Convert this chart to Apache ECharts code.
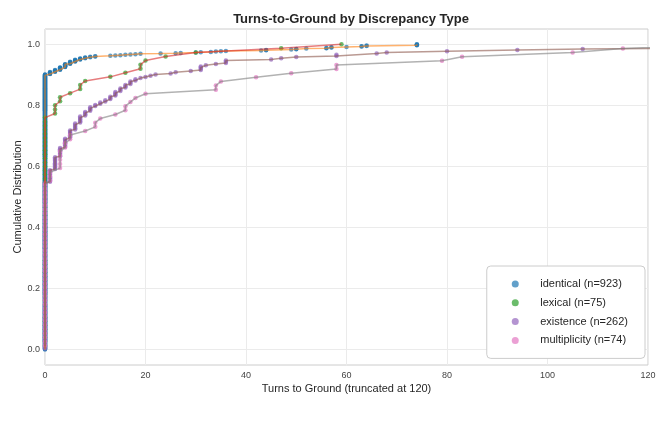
<!DOCTYPE html>
<html><head><meta charset="utf-8">
<script src="https://cdn.jsdelivr.net/npm/echarts@6/dist/echarts.min.js"></script>
<style>html,body{margin:0;padding:0;background:#fff}#c{width:669px;height:429px}</style>
</head><body><div id="c"></div>
<script>
// Category labels
const categories = ['identical (n=923)', 'lexical (n=75)', 'existence (n=262)', 'multiplicity (n=74)'];
// Distinct turns-to-ground values and how many discrepancies had each value
const identicalTurns  = [0,1,2,3,4,5,6,7,8,9,10,13,14,15,16,17,18,19,23,26,27,30,31,33,34,35,36,43,44,49,50,52,56,57,60,63,64,74];
const identicalCounts = [832,7,6,8,10,7,6,4,3,2,2,1,1,1,1,1,1,1,1,1,1,1,1,1,1,1,1,1,2,1,2,1,2,2,1,2,2,4];
const lexicalTurns    = [0,2,3,5,7,8,13,16,19,20,24,30,47,59];
const lexicalCounts   = [57,3,2,1,2,1,1,1,2,1,1,1,1,1];
const existenceTurns  = [0,1,2,3,4,5,6,7,8,9,10,11,12,13,14,15,16,17,18,19,20,21,22,25,26,29,31,32,34,36,45,47,50,58,66,68,80,94,107,135,160,200,300];
const existenceCounts = [143,11,11,8,8,7,6,6,4,4,2,2,2,3,4,3,3,3,2,1,1,1,1,1,1,1,4,1,1,3,1,1,1,2,1,1,1,1,1,1,1,1,1];
const multiplicityTurns  = [0,1,3,4,5,8,10,11,14,16,17,18,20,34,35,42,49,58,79,83,105,115,140];
const multiplicityCounts = [40,3,5,2,2,1,2,1,1,2,1,1,1,2,1,1,1,2,1,1,1,1,1];
// Axis ticks
const xTicks = [0,20,40,60,80,100,120];
const yTicks = [0,0.2,0.4,0.6,0.8,1.0];

const markerColors = ['#1f77b4','#2ca02c','#9467bd','#e377c2'];
const lineColors = ['#ff7f0e','#d62728','#8c564b','#7f7f7f'];

function ecdf(turns, counts) {
  const n = counts.reduce((a, b) => a + b, 0);
  const pts = [];
  let cum = 0;
  turns.forEach((t, i) => {
    for (let k = 0; k < counts[i]; k++) { cum++; pts.push([t, cum / n]); }
  });
  return pts;
}
const sets = [
  ecdf(identicalTurns, identicalCounts),
  ecdf(lexicalTurns, lexicalCounts),
  ecdf(existenceTurns, existenceCounts),
  ecdf(multiplicityTurns, multiplicityCounts)
];

const series = [];
sets.forEach((pts, i) => {
  series.push({
    name: categories[i] + ' line', type: 'line', data: pts, showSymbol: false, symbol: 'none',
    lineStyle: { color: lineColors[i], width: 1.5, opacity: 0.6 }, itemStyle: { color: lineColors[i] },
    clip: true, silent: true, animation: false
  });
  series.push({
    name: categories[i], type: 'scatter', data: pts, symbolSize: 4.5,
    itemStyle: { color: markerColors[i], opacity: 0.7 }, clip: true, animation: false
  });
});

const FONT = 'Liberation Sans, Arial, sans-serif';
const chart = echarts.init(document.getElementById('c'), null, { renderer: 'canvas' });
chart.setOption({
  backgroundColor: '#ffffff',
  animation: false,
  title: {
    text: 'Turns-to-Ground by Discrepancy Type', left: 346, top: 8, textAlign: 'center',
    textStyle: { fontFamily: FONT, fontSize: 13, fontWeight: 'bold', color: '#262626' }
  },
  grid: { left: 45, right: 21, top: 29, bottom: 64, show: true, borderColor: '#cccccc', borderWidth: 1, containLabel: false, outerBoundsMode: 'none' },
  legend: {
    data: categories, orient: 'vertical', right: 24, top: 266,
    icon: 'circle', itemWidth: 40, itemHeight: 7, itemGap: 4.8,
    padding: [11, 17, 11, 25],
    backgroundColor: '#ffffff', borderColor: '#cccccc', borderWidth: 1, borderRadius: 4,
    textStyle: { fontFamily: FONT, fontSize: 11, color: '#262626', lineHeight: 14 }
  },
  xAxis: {
    type: 'value', min: 0, max: 120, interval: 20,
    name: 'Turns to Ground (truncated at 120)', nameLocation: 'middle', nameGap: 18, nameMoveOverlap: false,
    nameTextStyle: { fontFamily: FONT, fontSize: 11, color: '#262626' },
    axisLine: { show: false }, axisTick: { show: false },
    axisLabel: { fontFamily: FONT, fontSize: 9, color: '#444', margin: 6, formatter: v => xTicks.includes(v) ? String(v) : '' },
    splitLine: { show: true, lineStyle: { color: '#ebebeb', width: 1 } }
  },
  yAxis: {
    type: 'value', min: -0.05, max: 1.05,
    name: 'Cumulative Distribution', nameLocation: 'middle', nameGap: 22, nameMoveOverlap: false,
    nameTextStyle: { fontFamily: FONT, fontSize: 11, color: '#262626' },
    axisLine: { show: false },
    axisTick: { show: false, customValues: yTicks },
    axisLabel: { fontFamily: FONT, fontSize: 9, color: '#444', margin: 5, customValues: yTicks, formatter: v => v.toFixed(1) },
    splitLine: { show: true, lineStyle: { color: '#ebebeb', width: 1 } }
  },
  series: series
});
</script></body></html>
